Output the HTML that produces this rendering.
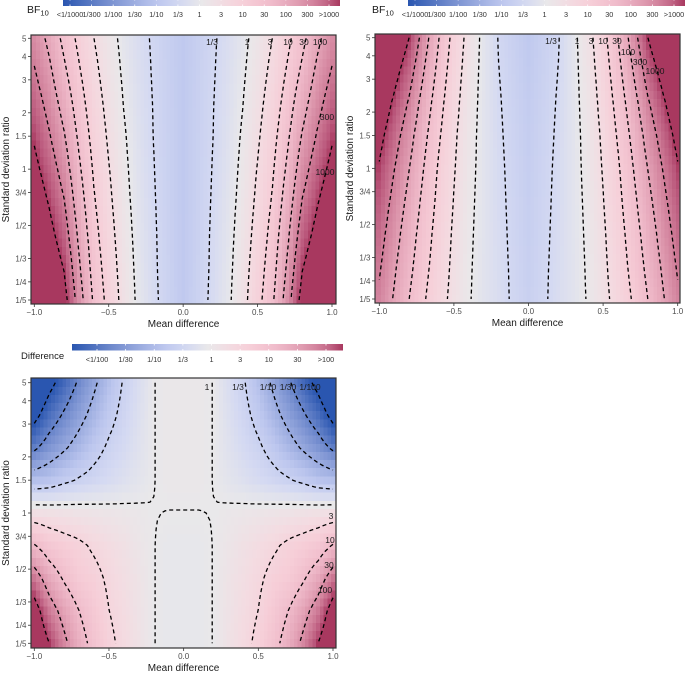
<!DOCTYPE html>
<html><head><meta charset="utf-8">
<style>
html,body{margin:0;padding:0;background:#fff;}
svg{display:block;font-family:"Liberation Sans",sans-serif;}
</style></head>
<body>
<svg id="chart" width="685" height="675" viewBox="0 0 685 675" xmlns="http://www.w3.org/2000/svg">
<defs>
<linearGradient id="gradBF" x1="0" x2="1" y1="0" y2="0"></linearGradient>
<linearGradient id="gradDiff" x1="0" x2="1" y1="0" y2="0"></linearGradient>
</defs>
<g id="legend1">
<text x="27" y="13" font-size="10.5" fill="#1a1a1a">BF<tspan font-size="7.5" dy="2.5">10</tspan></text>
<rect x="63" y="-1" width="277" height="7" fill="url(#gradBF)"/>
</g>
<g id="legend2">
<text x="372" y="13" font-size="10.5" fill="#1a1a1a">BF<tspan font-size="7.5" dy="2.5">10</tspan></text>
<rect x="408" y="-1" width="277" height="7" fill="url(#gradBF)"/>
</g>
<g id="legend3">
<text x="21" y="359" font-size="9.5" fill="#1a1a1a">Difference</text>
<rect x="72" y="344" width="271" height="6.5" fill="url(#gradDiff)"/>
</g>
<g id="panel1"></g>
<g id="panel2"></g>
<g id="panel3"></g>
</svg>
<script>
// ---------- data ----------
const xCats = [-1,-0.9,-0.8,-0.7,-0.6,-0.5,-0.4,-0.3,-0.2,-0.1,0,0.1,0.2,0.3,0.4,0.5,0.6,0.7,0.8,0.9,1];
// rows: standard deviation ratio positions (log5 scale): 5 ... 1/5
const sRows = [1,0.75,0.5,0.25,0,-0.25,-0.5,-0.75,-1];
// values (log10) for |mean difference| = 0,0.1,...,1.0 (symmetric)
const bfLeftRows = [
 [-0.9,-0.72,-0.53,-0.33,-0.11,0.16,0.48,0.88,1.34,1.88,2.30],
 [-0.9,-0.71,-0.51,-0.30,-0.06,0.24,0.60,1.05,1.57,2.10,2.51],
 [-0.9,-0.70,-0.49,-0.27,-0.01,0.33,0.71,1.22,1.81,2.31,2.73],
 [-0.9,-0.69,-0.48,-0.24,0.05,0.41,0.83,1.39,2.04,2.52,2.94],
 [-0.9,-0.69,-0.46,-0.21,0.10,0.50,0.94,1.56,2.27,2.74,3.15],
 [-0.9,-0.68,-0.44,-0.18,0.15,0.58,1.05,1.73,2.50,2.96,3.36],
 [-0.9,-0.67,-0.42,-0.15,0.21,0.66,1.17,1.90,2.73,3.17,3.58],
 [-0.9,-0.66,-0.41,-0.12,0.26,0.75,1.28,2.07,2.97,3.39,3.79],
 [-0.9,-0.65,-0.39,-0.09,0.31,0.83,1.40,2.24,3.20,3.60,4.00]
];
const bfRightRows = [
 [-0.90,-0.70,-0.50,-0.12,0.31,0.83,1.48,2.24,3.00,3.50,4.00],
 [-0.86,-0.67,-0.47,-0.13,0.25,0.73,1.32,2.00,2.70,3.19,3.68],
 [-0.82,-0.64,-0.44,-0.14,0.20,0.64,1.17,1.78,2.42,2.91,3.39],
 [-0.79,-0.61,-0.42,-0.15,0.16,0.56,1.05,1.60,2.19,2.68,3.15],
 [-0.77,-0.59,-0.40,-0.15,0.13,0.51,0.94,1.46,2.01,2.49,2.96],
 [-0.75,-0.57,-0.39,-0.16,0.10,0.46,0.87,1.34,1.86,2.34,2.80],
 [-0.74,-0.56,-0.37,-0.16,0.07,0.41,0.80,1.23,1.72,2.20,2.66],
 [-0.72,-0.54,-0.36,-0.17,0.05,0.37,0.74,1.14,1.60,2.07,2.53],
 [-0.70,-0.53,-0.35,-0.17,0.03,0.33,0.67,1.04,1.48,1.95,2.40]
];
const diffRows = [
 [0.03,0.03,-0.003,-0.22,-0.44,-0.74,-1.07,-1.41,-1.78,-2.15,-2.6],
 [0.03,0.03,-0.003,-0.18,-0.37,-0.59,-0.86,-1.14,-1.42,-1.72,-2.15],
 [0.03,0.03,-0.003,-0.14,-0.28,-0.42,-0.61,-0.83,-1.05,-1.27,-1.55],
 [0.03,0.03,-0.003,-0.09,-0.17,-0.26,-0.35,-0.44,-0.55,-0.68,-0.74],
 [-0.003,-0.003,0.003,0.04,0.07,0.10,0.13,0.16,0.19,0.22,0.25],
 [-0.03,-0.03,0.003,0.10,0.21,0.31,0.42,0.55,0.65,0.78,1.03],
 [-0.03,-0.03,0.003,0.14,0.27,0.41,0.59,0.70,0.95,1.25,1.70],
 [-0.03,-0.03,0.003,0.16,0.32,0.48,0.74,1.00,1.32,1.68,2.20],
 [-0.03,-0.03,0.003,0.18,0.36,0.57,0.86,1.18,1.57,2.00,2.40]
];
const bfLevels = [-0.477,0,0.477,1,1.477,2,2.477,3];
const diffLevels = [-2,-1.477,-1,-0.477,0,0.477,1,1.477,2];
const bfTickLabels = ["<1/1000","1/300","1/100","1/30","1/10","1/3","1","3","10","30","100","300",">1000"];
const diffTickLabels = ["<1/100","1/30","1/10","1/3","1","3","10","30",">100"];
const yTickValues = [5,4,3,2,1.5,1,0.75,0.5,1/3,0.25,0.2];
const yTickLabels = ["5","4","3","2","1.5","1","3/4","1/2","1/3","1/4","1/5"];
const xTickValues = [-1,-0.5,0,0.5,1];
const xTickLabels = ["\u22121.0","\u22120.5","0.0","0.5","1.0"];
const leftContourLabels = ["1/3","1","3","10","30","100","300","1000"];
const rightContourLabels = ["1/3","1","3","10","30","100","300","1000"];
const diffContourLabels = ["1","1/3","1/10","1/30","1/100","3","10","30","100"];

// ---------- helpers ----------
const NS = "http://www.w3.org/2000/svg";
const stops = [[-1,'#2a56b0'],[-0.67,'#7890d0'],[-0.33,'#bcc6ee'],[-0.15,'#d4d9f2'],[0,'#e9e8ea'],[0.17,'#f4dbe1'],[0.33,'#f6cdd7'],[0.5,'#f0bccb'],[0.67,'#e3a2b6'],[0.83,'#cf7d98'],[0.95,'#b9567a'],[1,'#a8385f']];
function hex2rgb(h){return [parseInt(h.substr(1,2),16),parseInt(h.substr(3,2),16),parseInt(h.substr(5,2),16)];}
function pal(u){
  u=Math.max(-1,Math.min(1,u));
  for(let k=0;k<stops.length-1;k++){
    if(u<=stops[k+1][0]){
      const f=(u-stops[k][0])/(stops[k+1][0]-stops[k][0]);
      const a=hex2rgb(stops[k][1]),b=hex2rgb(stops[k+1][1]);
      return 'rgb('+a.map((v,i)=>Math.round(v+(b[i]-v)*f)).join(',')+')';
    }
  }
  return stops[stops.length-1][1];
}
function mk(tag,attrs,parent){const e=document.createElementNS(NS,tag);for(const k in attrs)e.setAttribute(k,attrs[k]);if(parent)parent.appendChild(e);return e;}

// gradients
['gradBF','gradDiff'].forEach(id=>{
  const g=document.getElementById(id);
  for(let k=0;k<=20;k++){const u=-1+k*0.1;mk('stop',{offset:(k*5)+'%','stop-color':pal(u)},g);}
});

function legendLabels(labels,x0,x1,yText,barTop,barBot,parent){
  labels.forEach((lab,i)=>{
    const x=x0+i*(x1-x0)/(labels.length-1);
    const t=mk('text',{x:x,y:yText,'font-size':7.3,'text-anchor':'middle',fill:'#333'},parent);
    t.textContent=lab;
    
    
    const tk=mk('line',{x1:x,x2:x,y1:barBot-1.5,y2:barBot,stroke:'#fff','stroke-width':0.8},parent);
    
    
    const tk2=mk('line',{x1:x,x2:x,y1:barTop,y2:barTop+1.5,stroke:'#fff','stroke-width':0.8},parent);
    
    
  });
}
legendLabels(bfTickLabels,70,329,17,-1,6,document.getElementById('legend1'));
legendLabels(bfTickLabels,415,674,17,-1,6,document.getElementById('legend2'));
legendLabels(diffTickLabels,97,326,362,344,350.5,document.getElementById('legend3'));

function contourLines(G,xs,ss,L){
  const ny=G.length,nx=G[0].length,pts={},adj={};
  function addPt(id,p){pts[id]=p;if(!adj[id])adj[id]=[];}
  function link(a,b){adj[a].push(b);adj[b].push(a);}
  for(let j=0;j<ny-1;j++)for(let i=0;i<nx-1;i++){
    const a=G[j][i],b=G[j][i+1],c=G[j+1][i+1],d=G[j+1][i];
    const edges=[
      ['h'+j+'_'+i,a,b,[xs[i],ss[j]],[xs[i+1],ss[j]]],
      ['v'+j+'_'+(i+1),b,c,[xs[i+1],ss[j]],[xs[i+1],ss[j+1]]],
      ['h'+(j+1)+'_'+i,d,c,[xs[i],ss[j+1]],[xs[i+1],ss[j+1]]],
      ['v'+j+'_'+i,a,d,[xs[i],ss[j]],[xs[i],ss[j+1]]]
    ];
    const cr=[];
    edges.forEach(e=>{
      if((e[1]>=L)!==(e[2]>=L)){
        const f=(L-e[1])/(e[2]-e[1]);
        addPt(e[0],[e[3][0]+f*(e[4][0]-e[3][0]),e[3][1]+f*(e[4][1]-e[3][1])]);
        cr.push(e[0]);
      }
    });
    if(cr.length===2)link(cr[0],cr[1]);
    else if(cr.length===4){link(cr[0],cr[1]);link(cr[2],cr[3]);}
  }
  const seen={},lines=[];
  const ids=Object.keys(adj);
  const order=ids.filter(k=>adj[k].length===1).concat(ids.filter(k=>adj[k].length!==1));
  order.forEach(st=>{
    if(seen[st])return;
    const line=[pts[st]];seen[st]=1;let cur=st;
    while(true){
      const nxt=adj[cur].find(n=>!seen[n]);
      if(!nxt)break;
      seen[nxt]=1;line.push(pts[nxt]);cur=nxt;
    }
    if(adj[st].length===2&&adj[cur].indexOf(st)>=0&&line.length>2)line.push(pts[st]);
    if(line.length>1)lines.push(line);
  });
  return lines;
}

function makePanel(cfg){
  const g=document.getElementById(cfg.id);
  const xpx=x=>cfg.xA+(x+1)/2*(cfg.xB-cfg.xA);
  const spx=s=>cfg.sA+(1-s)/2*(cfg.sB-cfg.sA);
  const nx=xCats.length,ny=sRows.length,K=4;
  const G=cfg.rows.map(r=>xCats.map(x=>r[Math.round(Math.abs(x)*10)]));
  const NX=(nx-1)*K+1,NY=(ny-1)*K+1;
  const xr=[],sr=[],GR=[];
  for(let ii=0;ii<NX;ii++){let i0=Math.floor(ii/K),f=(ii%K)/K;if(i0>=nx-1){i0=nx-2;f=1;}xr.push(xCats[i0]+f*(xCats[i0+1]-xCats[i0]));}
  for(let jj=0;jj<NY;jj++){let j0=Math.floor(jj/K),f=(jj%K)/K;if(j0>=ny-1){j0=ny-2;f=1;}sr.push(sRows[j0]+f*(sRows[j0+1]-sRows[j0]));}
  for(let jj=0;jj<NY;jj++){
    let j0=Math.floor(jj/K),fy=(jj%K)/K;if(j0>=ny-1){j0=ny-2;fy=1;}
    const row=[];
    for(let ii=0;ii<NX;ii++){
      let i0=Math.floor(ii/K),fx=(ii%K)/K;if(i0>=nx-1){i0=nx-2;fx=1;}
      const v=G[j0][i0]*(1-fx)*(1-fy)+G[j0][i0+1]*fx*(1-fy)+G[j0+1][i0]*(1-fx)*fy+G[j0+1][i0+1]*fx*fy;
      row.push(v);
    }
    GR.push(row);
  }
  const cells=mk('g',{'shape-rendering':'crispEdges'},g);
  
  
  for(let jj=0;jj<NY;jj++){
    const top=jj===0?cfg.T:(spx(sr[jj-1])+spx(sr[jj]))/2;
    const bot=jj===NY-1?cfg.B:(spx(sr[jj])+spx(sr[jj+1]))/2;
    for(let ii=0;ii<NX;ii++){
      const lft=ii===0?cfg.L:(xpx(xr[ii-1])+xpx(xr[ii]))/2;
      const rgt=ii===NX-1?cfg.R:(xpx(xr[ii])+xpx(xr[ii+1]))/2;
      const r=mk('rect',{x:lft.toFixed(2),y:top.toFixed(2),width:(rgt-lft+0.4).toFixed(2),height:(bot-top+0.4).toFixed(2),fill:pal(GR[jj][ii]/cfg.vmax)},cells);
      
      
    }
  }
  // contours
  const cg=mk('g',{fill:'none',stroke:'#000','stroke-width':1.3,'stroke-dasharray':'4,3'},g);
  
  
  cfg.levels.forEach(L=>{
    contourLines(GR,xr,sr,L).forEach(line=>{
      const d='M'+line.map(p=>xpx(p[0]).toFixed(1)+','+spx(p[1]).toFixed(1)).join('L');
      const p=mk('path',{d:d},cg);
      
      
    });
  });
  // contour labels
  cfg.labels.forEach((lab,i)=>{
    const t=mk('text',{x:cfg.labelPos[i][0],y:cfg.labelPos[i][1],'font-size':8.5,'text-anchor':'middle',fill:'#1a1a1a'},g);
    t.textContent=lab;
    
    
  });
  // border
  const bd=mk('rect',{x:cfg.L,y:cfg.T,width:cfg.R-cfg.L,height:cfg.B-cfg.T,fill:'none',stroke:'#333','stroke-width':1.2},g);
  
  
  // y axis
  yTickValues.forEach((v,i)=>{
    const y=spx(Math.log(v)/Math.log(5));
    const tk=mk('line',{x1:cfg.L-3,x2:cfg.L,y1:y,y2:y,stroke:'#333','stroke-width':0.8},g);
    
    
    const t=mk('text',{x:cfg.L-4.5,y:y+3,'font-size':8,'text-anchor':'end',fill:'#4d4d4d'},g);
    t.textContent=yTickLabels[i];
    
    
  });
  xTickValues.forEach((v,i)=>{
    const x=xpx(v);
    const tk=mk('line',{x1:x,x2:x,y1:cfg.B,y2:cfg.B+3,stroke:'#333','stroke-width':0.8},g);
    
    
    const t=mk('text',{x:x,y:cfg.B+11,'font-size':8,'text-anchor':'middle',fill:'#4d4d4d'},g);
    t.textContent=xTickLabels[i];
    
    
  });
  const xt=mk('text',{x:(cfg.L+cfg.R)/2,y:cfg.B+23,'font-size':10,'text-anchor':'middle',fill:'#1a1a1a'},g);
  xt.textContent='Mean difference';
  
  
  const cy=(cfg.T+cfg.B)/2,cx=cfg.L-22;
  const yt=mk('text',{x:cx,y:cy,'font-size':10,'text-anchor':'middle',fill:'#1a1a1a',transform:'rotate(-90 '+cx+' '+cy+')'},g);
  yt.textContent='Standard deviation ratio';
  
  
}

makePanel({id:'panel1',rows:bfLeftRows,levels:bfLevels,vmax:3,L:31,T:35,R:336,B:304,xA:34.3,xB:332,sA:38.3,sB:300,
  labels:leftContourLabels,labelPos:[[212,45],[247,45],[270,45],[288,45],[304,45],[320,45],[327,120],[325,175]]});
makePanel({id:'panel2',rows:bfRightRows,levels:bfLevels,vmax:3,L:375,T:34,R:680,B:303,xA:379.3,xB:677.7,sA:37.7,sB:299,
  labels:rightContourLabels,labelPos:[[551,44],[577,44],[591,44],[603,44],[617,44],[628,55],[640,65],[655,74]]});
makePanel({id:'panel3',rows:diffRows,levels:diffLevels,vmax:2,L:31,T:378,R:336,B:648,xA:34.3,xB:333,sA:382.7,sB:643.3,
  labels:diffContourLabels,labelPos:[[207,390],[238,390],[268,390],[288,390],[310,390],[331,519],[330,543],[329,568],[325,593]]});
</script>
</body></html>
